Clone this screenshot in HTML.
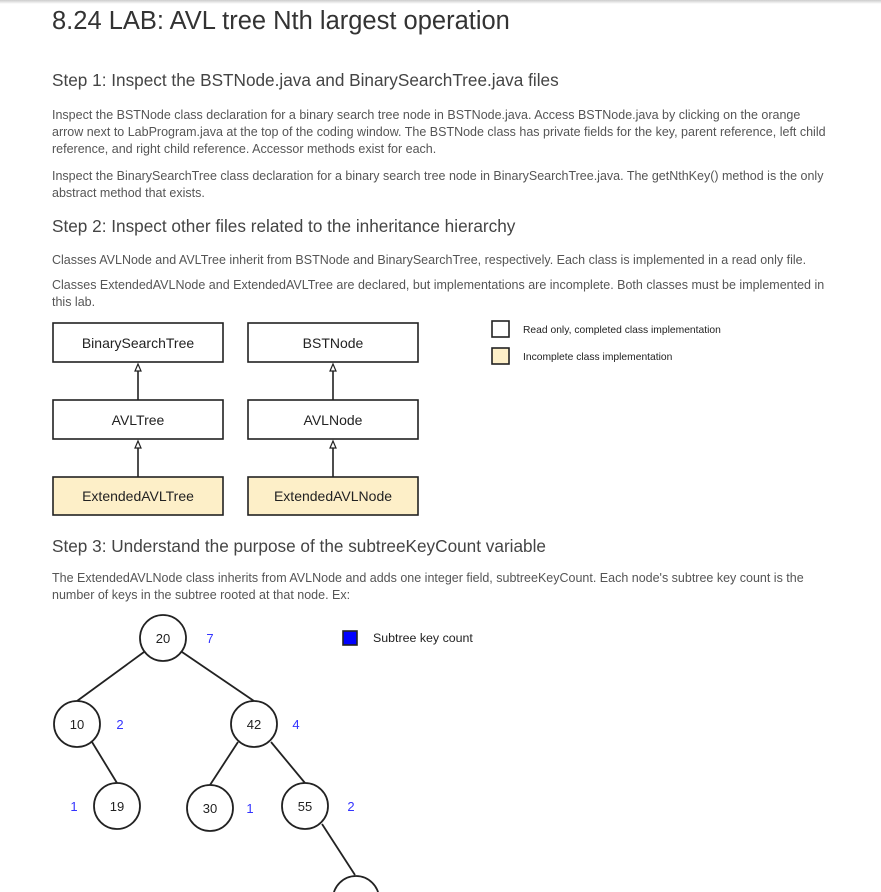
<!DOCTYPE html>
<html><head><style>
body{margin:0;width:881px;height:892px;overflow:hidden;background:#fff;font-family:"Liberation Sans",sans-serif;position:relative}
h1{position:absolute;left:52px;top:7px;margin:0;font-weight:normal;font-size:25.5px;color:#333}
.h{position:absolute;left:52px;margin:0;font-weight:normal;font-size:17.2px;color:#444;white-space:nowrap}
.p{position:absolute;left:52px;width:780px;margin:0;font-size:12.5px;line-height:17px;color:#555}
</style></head><body>
<div style="position:absolute;left:0;top:0;width:881px;height:4px;background:linear-gradient(#ccc,#fff)"></div>
<h1>8.24 LAB: AVL tree Nth largest operation</h1>
<div class="h" style="top:70px">Step 1: Inspect the BSTNode.java and BinarySearchTree.java files</div>
<p class="p" style="top:107px">Inspect the BSTNode class declaration for a binary search tree node in BSTNode.java. Access BSTNode.java by clicking on the orange arrow next to LabProgram.java at the top of the coding window. The BSTNode class has private fields for the key, parent reference, left child reference, and right child reference. Accessor methods exist for each.</p>
<p class="p" style="top:168px">Inspect the BinarySearchTree class declaration for a binary search tree node in BinarySearchTree.java. The getNthKey() method is the only abstract method that exists.</p>
<div class="h" style="top:216px">Step 2: Inspect other files related to the inheritance hierarchy</div>
<p class="p" style="top:252px">Classes AVLNode and AVLTree inherit from BSTNode and BinarySearchTree, respectively. Each class is implemented in a read only file.</p>
<p class="p" style="top:277px">Classes ExtendedAVLNode and ExtendedAVLTree are declared, but implementations are incomplete. Both classes must be implemented in this lab.</p>
<div class="h" style="top:536px">Step 3: Understand the purpose of the subtreeKeyCount variable</div>
<p class="p" style="top:570px">The ExtendedAVLNode class inherits from AVLNode and adds one integer field, subtreeKeyCount. Each node's subtree key count is the number of keys in the subtree rooted at that node. Ex:</p>
<svg style="position:absolute;left:0;top:0" width="881" height="892" font-family="Liberation Sans,sans-serif">
<g stroke="#222" stroke-width="1.6" fill="#fff">
<rect x="53" y="323" width="170" height="39"/><rect x="248" y="323" width="170" height="39"/>
<rect x="53" y="400" width="170" height="39"/><rect x="248" y="400" width="170" height="39"/>
<rect x="53" y="477" width="170" height="38" fill="#fdefc8"/><rect x="248" y="477" width="170" height="38" fill="#fdefc8"/>
<line x1="138" y1="400" x2="138" y2="370"/><line x1="333" y1="400" x2="333" y2="370"/>
<line x1="138" y1="477" x2="138" y2="447"/><line x1="333" y1="477" x2="333" y2="447"/>
<path d="M138 364l-3 7h6z M333 364l-3 7h6z M138 441l-3 7h6z M333 441l-3 7h6z" stroke-width="1.2"/>
<rect x="492" y="321" width="17" height="16"/><rect x="492" y="348" width="17" height="16" fill="#fdefc8"/>
<rect x="343" y="631" width="14" height="14" fill="#0000ff"/>
<g stroke-width="1.8">
<line x1="144" y1="652" x2="77" y2="701"/><line x1="182" y1="652" x2="254" y2="701"/>
<line x1="92" y1="742" x2="117" y2="783"/><line x1="238" y1="742" x2="210" y2="785"/>
<line x1="271" y1="742" x2="305" y2="783"/><line x1="322" y1="824" x2="355" y2="875"/>
<circle cx="163" cy="638" r="23"/><circle cx="77" cy="724" r="23"/><circle cx="254" cy="724" r="23"/>
<circle cx="117" cy="806" r="23"/><circle cx="210" cy="808" r="23"/><circle cx="305" cy="806" r="23"/>
<circle cx="356" cy="899" r="23"/></g>
</g>
<g font-size="14" fill="#222" text-anchor="middle">
<text x="138" y="348">BinarySearchTree</text><text x="333" y="348">BSTNode</text>
<text x="138" y="425">AVLTree</text><text x="333" y="425">AVLNode</text>
<text x="138" y="501">ExtendedAVLTree</text><text x="333" y="501">ExtendedAVLNode</text>
<g font-size="13"><text x="163" y="643">20</text><text x="77" y="729">10</text><text x="254" y="729">42</text>
<text x="117" y="811">19</text><text x="210" y="813">30</text><text x="305" y="811">55</text></g>
</g>
<g font-size="10.3" fill="#222"><text x="523" y="333">Read only, completed class implementation</text><text x="523" y="360">Incomplete class implementation</text></g>
<text x="373" y="642" font-size="12.4" fill="#222">Subtree key count</text>
<g font-size="13" fill="#3333ff" text-anchor="middle">
<text x="210" y="643">7</text><text x="120" y="729">2</text><text x="296" y="729">4</text>
<text x="74" y="811">1</text><text x="250" y="813">1</text><text x="351" y="811">2</text></g>
</svg>
</body></html>
